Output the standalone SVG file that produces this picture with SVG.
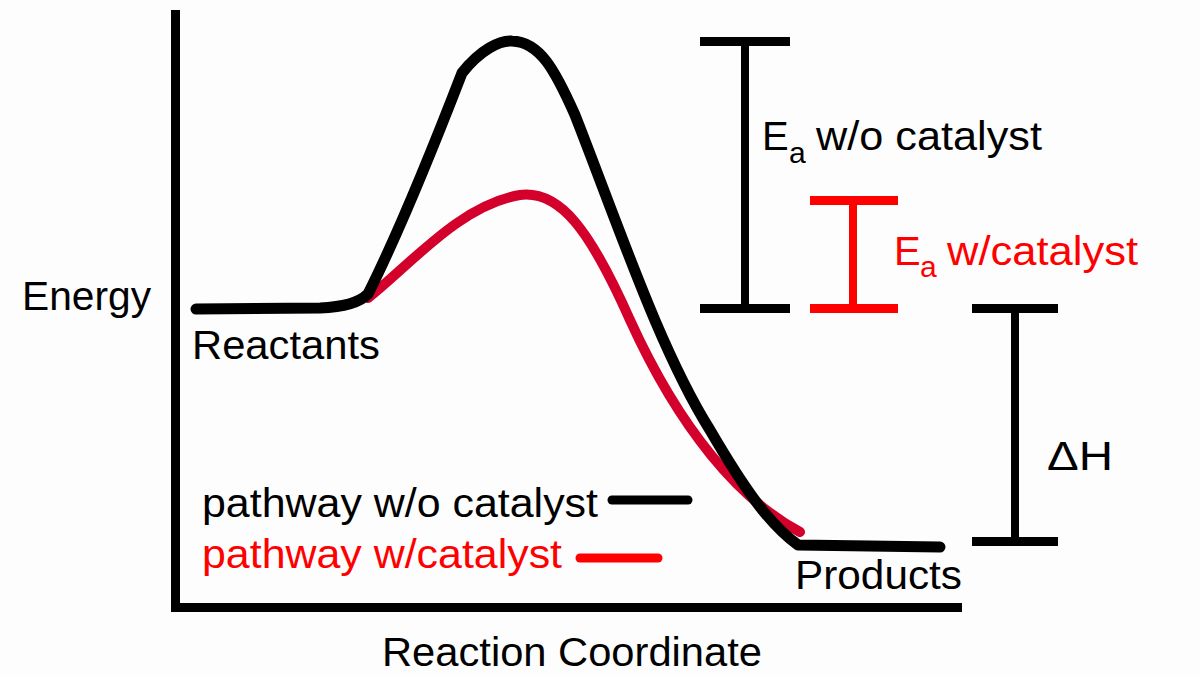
<svg xmlns="http://www.w3.org/2000/svg" width="1200" height="675" viewBox="0 0 1200 675">
<style>
.t{font-family:"Liberation Sans",Arial,sans-serif;font-size:40px;fill:#000}
.r{fill:#ff0000}
.sub{font-size:30px}
.curve{stroke-linecap:round;stroke-linejoin:round;fill:none}
</style>
<rect width="1200" height="675" fill="#fdfdfd"/>
<g id="axes">
<rect x="171" y="10" width="9" height="602" fill="#000"/>
<rect x="171" y="603" width="791" height="9" fill="#000"/>
</g>
<g id="connectors">
<path id="pathway-catalyst" class="curve" stroke="#d4002c" stroke-width="10" d="M368,298 C410,265 460,205 520,195 C560,190 590,230 630,320 C680,430 740,500 800,532"/>
<path id="pathway-no-catalyst" class="curve" stroke="#000" stroke-width="11" d="M196,309 L320,308 C345,307 360,302 368,294 C400,230 440,130 462,73 C480,50 500,40 512,41 C540,42 555,70 575,115 C620,230 660,350 710,430 C745,490 770,525 798,545 L940,547"/>
</g>
<g id="ea-uncatalysed">
<rect x="700" y="37" width="90" height="9" fill="#000"/>
<rect x="741" y="37" width="8" height="275" fill="#000"/>
<rect x="700" y="304" width="90" height="9" fill="#000"/>
<text class="t" x="762" y="150">E</text>
<text class="t sub" x="789" y="163">a</text>
<text class="t" x="816" y="150" textLength="226" lengthAdjust="spacingAndGlyphs">w/o catalyst</text>
</g>
<g id="ea-catalysed">
<rect x="810" y="196" width="88" height="9" fill="#ff0000"/>
<rect x="849" y="196" width="8" height="116" fill="#ff0000"/>
<rect x="810" y="304" width="88" height="9" fill="#ff0000"/>
<text class="t r" x="894" y="265">E</text>
<text class="t r sub" x="920" y="277">a</text>
<text class="t r" x="947" y="265" textLength="191" lengthAdjust="spacingAndGlyphs">w/catalyst</text>
</g>
<g id="delta-h">
<rect x="972" y="304" width="86" height="9" fill="#000"/>
<rect x="1011" y="304" width="8" height="242" fill="#000"/>
<rect x="972" y="537" width="86" height="9" fill="#000"/>
<text class="t" x="1047" y="470" textLength="66" lengthAdjust="spacingAndGlyphs">ΔH</text>
</g>
<g id="labels">
<text class="t" x="22" y="310" textLength="129" lengthAdjust="spacingAndGlyphs">Energy</text>
<text class="t" x="192" y="359" textLength="188" lengthAdjust="spacingAndGlyphs">Reactants</text>
<text class="t" x="795" y="589" textLength="167" lengthAdjust="spacingAndGlyphs">Products</text>
<text class="t" x="382" y="666" textLength="380" lengthAdjust="spacingAndGlyphs">Reaction Coordinate</text>
</g>
<g id="legend">
<text class="t" x="202" y="517" textLength="396" lengthAdjust="spacingAndGlyphs">pathway w/o catalyst</text>
<line x1="612" y1="500" x2="688" y2="500" stroke="#000" stroke-width="9" stroke-linecap="round"/>
<text class="t r" x="202" y="568" textLength="360" lengthAdjust="spacingAndGlyphs">pathway w/catalyst</text>
<line x1="580" y1="558" x2="658" y2="558" stroke="#ff0000" stroke-width="9" stroke-linecap="round"/>
</g>
</svg>
